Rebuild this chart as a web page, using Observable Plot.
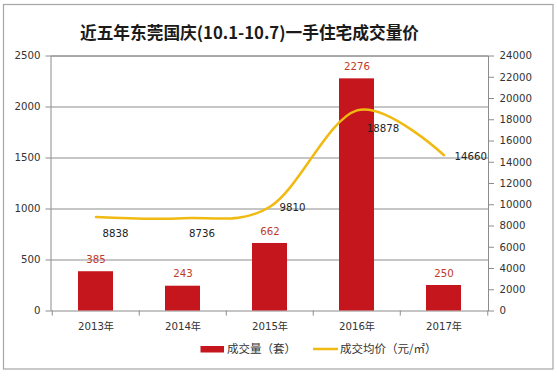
<!DOCTYPE html>
<html>
<head>
<meta charset="utf-8">
<script src="https://cdn.jsdelivr.net/npm/d3@7"></script>
<script src="https://cdn.jsdelivr.net/npm/@observablehq/plot@0.6"></script>
<style>
  html, body { margin: 0; padding: 0; background: #fff; }
</style>
</head>
<body>
<div id="chart"></div>
<script>
// 近五年东莞国庆黄金周一手住宅成交量（套）与成交均价（元/㎡）
const years = ["2013年", "2014年", "2015年", "2016年", "2017年"];
const volume = [385, 243, 662, 2276, 250];
const price = [8838, 8736, 9810, 18878, 14660];
const volumeTicks = [0, 500, 1000, 1500, 2000, 2500];
const priceTicks = [0, 2000, 4000, 6000, 8000, 10000, 12000, 14000, 16000, 18000, 20000, 22000, 24000];

const titleText = "近五年东莞国庆(10.1-10.7)一手住宅成交量价";
const legendVolume = "成交量（套）";
const legendPrice = "成交均价（元/㎡）";

// price shares the left (volume) scale: 24000 元/㎡ sits at 2500 套
const ratio = 2500 / 24000;
const rows = years.map((year, i) => ({year, volume: volume[i], price: price[i]}));

const BAR = "#c4161c";
const LINE = "#f0ba12";
const GRID = "#8c8c8c";
const FONT = "'DejaVu Sans', 'Noto Sans CJK SC', sans-serif";

// hand-placed offsets for the price labels, as in the workbook
const priceLabelNudge = [
  {dx: 19.5, dy: 16.5, anchor: "middle"},
  {dx: 19, dy: 15.5, anchor: "middle"},
  {dx: 22.5, dy: 0.5, anchor: "middle"},
  {dx: 26, dy: 18, anchor: "middle"},
  {dx: 10.5, dy: 1, anchor: "start"}
];

const step = (488 - 50.5) / years.length;

const chart = Plot.plot({
  width: 557,
  height: 383,
  marginLeft: 50.5,
  marginRight: 69,
  marginTop: 55.5,
  marginBottom: 72.5,
  x: {domain: years, paddingInner: 0.6, paddingOuter: 0.3, axis: null},
  y: {domain: [0, 2500], axis: null},
  style: {fontFamily: FONT, fontSize: "10.2px", color: "#333", background: "white"},
  marks: [
    Plot.gridY(volumeTicks.slice(1), {stroke: GRID, strokeOpacity: 1}),
    Plot.frame({stroke: GRID}),
    // left axis: 成交量
    Plot.axisY(volumeTicks, {
      anchor: "left", label: null, tickSize: 5, tickPadding: 5.5, stroke: GRID, fill: "#333",
      tickFormat: d => String(d)
    }),
    // right axis: 成交均价, drawn through the shared scale
    Plot.axisY(priceTicks.map(v => v * ratio), {
      anchor: "right", label: null, tickSize: 5, tickPadding: 6, stroke: GRID, fill: "#333",
      tickFormat: d => String(Math.round(d / ratio))
    }),
    // category boundary ticks below the baseline
    Plot.ruleX(years, {x: d => d, y1: 0, y2: -50, dx: -step / 2, stroke: GRID}),
    Plot.ruleX(years.slice(-1), {x: d => d, y1: 0, y2: -50, dx: step / 2, stroke: GRID}),
    // year labels
    Plot.text(years, {x: d => d, y: 0, dy: 16, text: d => d, fill: "#333", fontSize: 10.2}),
    // bars
    Plot.barY(rows, {x: "year", y: "volume", fill: BAR}),
    Plot.text(rows, {x: "year", y: "volume", dy: -12, text: d => String(d.volume), fill: "#c0392b", fontSize: 10.2}),
    // smoothed price line
    Plot.line(rows, {x: "year", y: d => d.price * ratio, stroke: LINE, strokeWidth: 2.5, curve: "cardinal"}),
    ...rows.map((r, i) => Plot.text([r], {
      x: "year", y: d => d.price * ratio, text: d => String(d.price),
      dx: priceLabelNudge[i].dx, dy: priceLabelNudge[i].dy, textAnchor: priceLabelNudge[i].anchor,
      fill: "#222", fontSize: 10.2
    }))
  ]
});

const svg = d3.select(chart);

// outer chart-area border
svg.insert("rect", "g")
  .attr("x", 3.5).attr("y", 4.5).attr("width", 549.5).attr("height", 364.5)
  .attr("fill", "none").attr("stroke", "#a6a6a6").attr("stroke-width", 1.2);

// title
svg.append("text")
  .attr("x", 249.5).attr("y", 39)
  .attr("text-anchor", "middle")
  .attr("font-family", "'Noto Sans CJK SC', sans-serif")
  .attr("font-weight", "bold")
  .attr("font-size", 16.7)
  .attr("fill", "#1a1a1a")
  .text(titleText);

// legend
const legend = svg.append("g")
  .attr("font-family", "'Noto Sans CJK SC', sans-serif")
  .attr("font-size", 11.5)
  .attr("fill", "#333")
  .attr("text-anchor", "start");
legend.append("rect").attr("x", 200.5).attr("y", 346).attr("width", 23.5).attr("height", 6.5).attr("fill", BAR);
legend.append("text").attr("x", 227).attr("y", 349.5).attr("dominant-baseline", "middle").text(legendVolume);
legend.append("line").attr("x1", 313).attr("x2", 338).attr("y1", 349).attr("y2", 349).attr("stroke", LINE).attr("stroke-width", 2.5);
legend.append("text").attr("x", 340).attr("y", 349.5).attr("dominant-baseline", "middle").text(legendPrice);

document.getElementById("chart").appendChild(chart);
</script>
</body>
</html>
